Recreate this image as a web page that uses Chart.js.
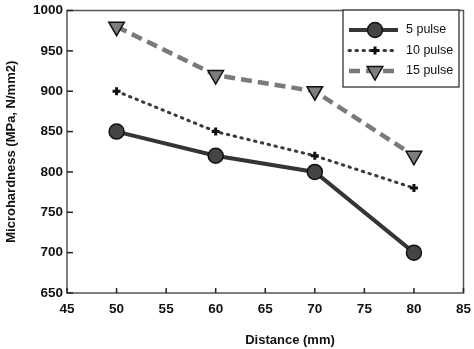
<!DOCTYPE html>
<html><head><meta charset="utf-8">
<script src="https://cdn.jsdelivr.net/npm/chart.js@4/dist/chart.umd.min.js"></script>
<style>html,body{margin:0;padding:0;background:#fff}#w{width:474px;height:349px}</style>
</head><body><div id="w"><canvas id="c"></canvas></div>
<script>
const distances = [50, 60, 70, 80];
const pulse5 = [850, 820, 800, 700];
const pulse10 = [900, 850, 820, 780];
const pulse15 = [980, 920, 900, 820];
const seriesNames = ['5 pulse', '10 pulse', '15 pulse'];
const xTicks = [45, 50, 55, 60, 65, 70, 75, 80, 85];
const yTicks = [650, 700, 750, 800, 850, 900, 950, 1000];
const xTitle = 'Distance (mm)';
const yTitle = 'Microhardness (MPa, N/mm2)';

const FONT = 'Liberation Sans, Arial, sans-serif';
const toPts = arr => arr.map((v, i) => ({x: distances[i], y: v}));

const datasets = [
  {label: seriesNames[0], data: toPts(pulse5), borderColor: '#353535', borderWidth: 4,
   pointStyle: 'circle', pointRadius: 7.5, pointBackgroundColor: '#454545', pointBorderColor: '#111', pointBorderWidth: 1.5},
  {label: seriesNames[1], data: toPts(pulse10), borderColor: '#3a3a3a', borderWidth: 3, borderDash: [1.5, 5.5], borderCapStyle: 'round',
   pointStyle: 'cross', pointRadius: 4, pointBorderColor: '#111', pointBorderWidth: 3},
  {label: seriesNames[2], data: toPts(pulse15), borderColor: '#7a7a7a', borderWidth: 4.5, borderDash: [11, 6],
   pointStyle: 'triangle', rotation: 180, pointRadius: 9, pointBackgroundColor: '#7d7d7d', pointBorderColor: '#111', pointBorderWidth: 1.5}
];

const extras = {
  id: 'extras',
  afterDraw(chart) {
    const ctx = chart.ctx, a = chart.chartArea;
    const xs = chart.scales.x, ys = chart.scales.y;
    ctx.save();
    // frame
    ctx.strokeStyle = '#555'; ctx.lineWidth = 1.5;
    ctx.strokeRect(a.left, a.top, a.right - a.left, a.bottom - a.top);
    // inward ticks
    ctx.strokeStyle = '#222'; ctx.lineWidth = 1.5;
    xTicks.forEach(v => { const p = xs.getPixelForValue(v); ctx.beginPath(); ctx.moveTo(p, a.bottom); ctx.lineTo(p, a.bottom - 5); ctx.stroke(); });
    yTicks.forEach(v => { const p = ys.getPixelForValue(v); ctx.beginPath(); ctx.moveTo(a.left, p); ctx.lineTo(a.left + 6, p); ctx.stroke(); });
    // x title
    ctx.fillStyle = '#111'; ctx.font = 'bold 13px ' + FONT; ctx.textAlign = 'center'; ctx.textBaseline = 'middle';
    ctx.fillText(xTitle, 290, 340);
    // legend
    const lx = 343, ly = 10, lw = 116, lh = 77;
    ctx.fillStyle = '#fff'; ctx.fillRect(lx, ly, lw, lh);
    ctx.strokeStyle = '#222'; ctx.lineWidth = 1.2; ctx.strokeRect(lx, ly, lw, lh);
    ctx.font = '12.5px ' + FONT; ctx.textBaseline = 'middle'; ctx.textAlign = 'left';
    chart.data.datasets.forEach((ds, i) => {
      const cy = ly + 20 + i * 20.5;
      ctx.save();
      ctx.strokeStyle = ds.borderColor; ctx.lineWidth = ds.borderWidth;
      ctx.setLineDash(ds.borderDash || []); ctx.lineCap = ds.borderCapStyle || 'butt';
      ctx.beginPath(); ctx.moveTo(lx + 6, cy); ctx.lineTo(lx + 55, cy); ctx.stroke();
      ctx.restore();
      ctx.save();
      ctx.fillStyle = ds.pointBackgroundColor || ds.pointBorderColor; ctx.strokeStyle = ds.pointBorderColor; ctx.lineWidth = ds.pointBorderWidth;
      Chart.helpers.drawPoint(ctx, {pointStyle: ds.pointStyle, rotation: ds.rotation || 0, radius: ds.pointRadius, borderWidth: ds.pointBorderWidth}, lx + 32, cy);
      ctx.restore();
      ctx.fillStyle = '#111';
      ctx.fillText(ds.label, lx + 63, cy);
    });
    ctx.restore();
  }
};

new Chart(document.getElementById('c'), {
  type: 'line',
  data: {datasets},
  options: {
    responsive: true, maintainAspectRatio: false, animation: false,
    layout: {padding: {top: 7, right: 7, left: 0, bottom: 0}},
    plugins: {legend: {display: false}, tooltip: {enabled: false}},
    scales: {
      x: {type: 'linear', min: 45, max: 85,
        afterBuildTicks: s => { s.ticks = xTicks.map(v => ({value: v})); },
        afterFit: s => { s.height = 56; s.paddingRight = 0; s.paddingLeft = 0; },
        grid: {display: false, drawTicks: false}, border: {display: false},
        ticks: {color: '#111', padding: 8, maxRotation: 0, callback: v => String(v), font: {family: FONT, size: 13.5, weight: 'bold'}},
        title: {display: false}},
      y: {min: 650, max: 1000,
        afterBuildTicks: s => { s.ticks = yTicks.map(v => ({value: v})); },
        afterFit: s => { s.width = 67; s.paddingTop = 0; s.paddingBottom = 0; },
        grid: {display: false, drawTicks: false}, border: {display: false},
        ticks: {color: '#111', padding: 4, callback: v => String(v), font: {family: FONT, size: 13.5, weight: 'bold'}},
        title: {display: true, text: yTitle, color: '#111', padding: {bottom: 4}, font: {family: FONT, size: 13, weight: 'bold'}}}
    }
  },
  plugins: [extras]
});
</script></body></html>
